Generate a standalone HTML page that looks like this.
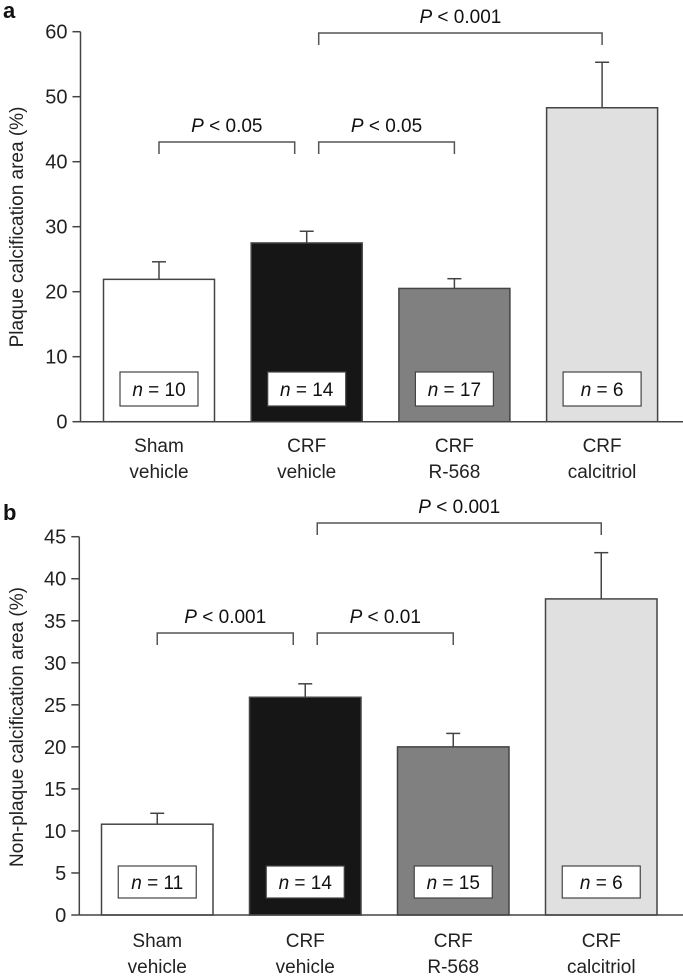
<!DOCTYPE html>
<html><head><meta charset="utf-8"><style>
html,body{margin:0;padding:0;background:#fff;}
svg{display:block;font-family:"Liberation Sans",Arial,sans-serif;}
</style></head><body>
<svg id="fig" width="683" height="979" viewBox="0 0 683 979" xmlns="http://www.w3.org/2000/svg"></svg>
<script>
const categories = ["Sham|vehicle","CRF|vehicle","CRF|R-568","CRF|calcitriol"];
const fills = ["#ffffff","#161616","#808080","#e0e0e0"];
const plaqueValues = [21.9, 27.5, 20.5, 48.3];
const plaqueErrors = [2.7, 1.8, 1.5, 7.0];
const plaqueN = ["10","14","17","6"];
const plaqueTicks = [0,10,20,30,40,50,60];
const nonPlaqueValues = [10.8, 25.9, 20.0, 37.6];
const nonPlaqueErrors = [1.3, 1.6, 1.6, 5.5];
const nonPlaqueN = ["11","14","15","6"];
const nonPlaqueTicks = [0,5,10,15,20,25,30,35,40,45];
const plaqueBrackets = [[0,1,"0.05"],[1,2,"0.05"],[1,3,"0.001"]];
const nonPlaqueBrackets = [[0,1,"0.001"],[1,2,"0.01"],[1,3,"0.001"]];

const NS="http://www.w3.org/2000/svg";
const svg=document.getElementById('fig');
function el(tag,attrs,parent){const e=document.createElementNS(NS,tag);for(const k in attrs)e.setAttribute(k,attrs[k]);(parent||svg).appendChild(e);return e;}

function panel(cfg){
  const g=el('g',{});
  
  
  const y=v=>cfg.y0-(v-cfg.min)/(cfg.max-cfg.min)*(cfg.y0-cfg.yTop);
  const barL=i=>cfg.x0+i*cfg.step, barC=i=>barL(i)+cfg.bw/2;
  // letter
  const L=el('text',{x:3,y:cfg.letterY,'font-size':22,'font-weight':'bold',fill:'#111'},g);L.textContent=cfg.letter;
  
  
  // y axis
  const ax=el('line',{x1:cfg.axX,y1:y(cfg.max),x2:cfg.axX,y2:cfg.y0,stroke:'#444','stroke-width':1.5},g);
  
  
  cfg.ticks.forEach(t=>{
    el('line',{x1:cfg.axX-8,y1:y(t),x2:cfg.axX,y2:y(t),stroke:'#444','stroke-width':1.5},g);
    const tx=el('text',{x:cfg.axX-13,y:y(t)+7,'font-size':20,'text-anchor':'end',fill:'#222'},g);
    tx.textContent=t;
    
    
  });
  const yt=el('text',{x:0,y:0,'font-size':19,'text-anchor':'middle',fill:'#222',transform:`translate(23,${cfg.titleY}) rotate(-90)`},g);
  yt.textContent=cfg.title;
  
  
  // bars
  cfg.values.forEach((v,i)=>{
    const top=y(v), etop=y(v+cfg.errors[i]);
    const el1=el('line',{x1:barC(i),y1:top,x2:barC(i),y2:etop,stroke:'#444','stroke-width':1.5},g);
    
    
    el('line',{x1:barC(i)-7,y1:etop,x2:barC(i)+7,y2:etop,stroke:'#444','stroke-width':1.5},g);
    const r=el('rect',{x:barL(i),y:top,width:cfg.bw,height:cfg.y0-top,fill:fills[i],stroke:'#444','stroke-width':1.5},g);
    
    
    const nb=el('rect',{x:barC(i)-39,y:cfg.nY,width:78,height:cfg.nH,fill:'#fff',stroke:'#444','stroke-width':1.2},g);
    
    
    const nt=el('text',{x:barC(i),y:cfg.nY+cfg.nH/2+7,'font-size':19,'text-anchor':'middle',fill:'#111'},g);
    nt.innerHTML='<tspan font-style="italic">n</tspan> = '+cfg.n[i];
    
    
    const parts=categories[i].split('|');
    parts.forEach((p,j)=>{
      const c=el('text',{x:barC(i),y:cfg.labY+j*26,'font-size':19,'text-anchor':'middle',fill:'#222'},g);
      c.textContent=p;
      
      
    });
  });
  // x axis
  const xa=el('line',{x1:cfg.axX,y1:cfg.y0,x2:683,y2:cfg.y0,stroke:'#444','stroke-width':1.5},g);
  
  
  // brackets
  cfg.brackets.forEach((b,k)=>{
    const long=(b[1]-b[0])>1;
    const by=long?cfg.brTopY:cfg.brY;
    const x1=barC(b[0])+(k===1?12:(long?12:0))-(k===0?0:0);
    const x2=barC(b[1])-(k===0?12:0);
    const xa1=k===0?barC(b[0]):barC(b[0])+12, xa2=k===0?barC(b[1])-12:barC(b[1]);
    const p=el('path',{d:`M${xa1},${by+12} V${by} H${xa2} V${by+12}`,fill:'none',stroke:'#555','stroke-width':1.5},g);
    
    
    const t=el('text',{x:(xa1+xa2)/2,y:by-10,'font-size':19,'text-anchor':'middle',fill:'#111'},g);
    t.innerHTML='<tspan font-style="italic">P</tspan> &lt; '+b[2];
    
    
  });
}

panel({name:'panel-a-plaque',letter:'a',letterY:18,min:0,max:60,y0:421.7,yTop:31.7,axX:80.5,
  x0:103.5,step:147.7,bw:111,values:plaqueValues,errors:plaqueErrors,n:plaqueN,ticks:plaqueTicks,
  title:'Plaque calcification area (%)',titleY:227,nY:372,nH:34,labY:452,brY:142,brTopY:33,brackets:plaqueBrackets});
panel({name:'panel-b-non-plaque',letter:'b',letterY:520,min:0,max:45,y0:915,yTop:536.7,axX:79.3,
  x0:101.5,step:148,bw:111.5,values:nonPlaqueValues,errors:nonPlaqueErrors,n:nonPlaqueN,ticks:nonPlaqueTicks,
  title:'Non-plaque calcification area (%)',titleY:727,nY:866,nH:32,labY:947,brY:633,brTopY:523,brackets:nonPlaqueBrackets});
</script>
</body></html>
